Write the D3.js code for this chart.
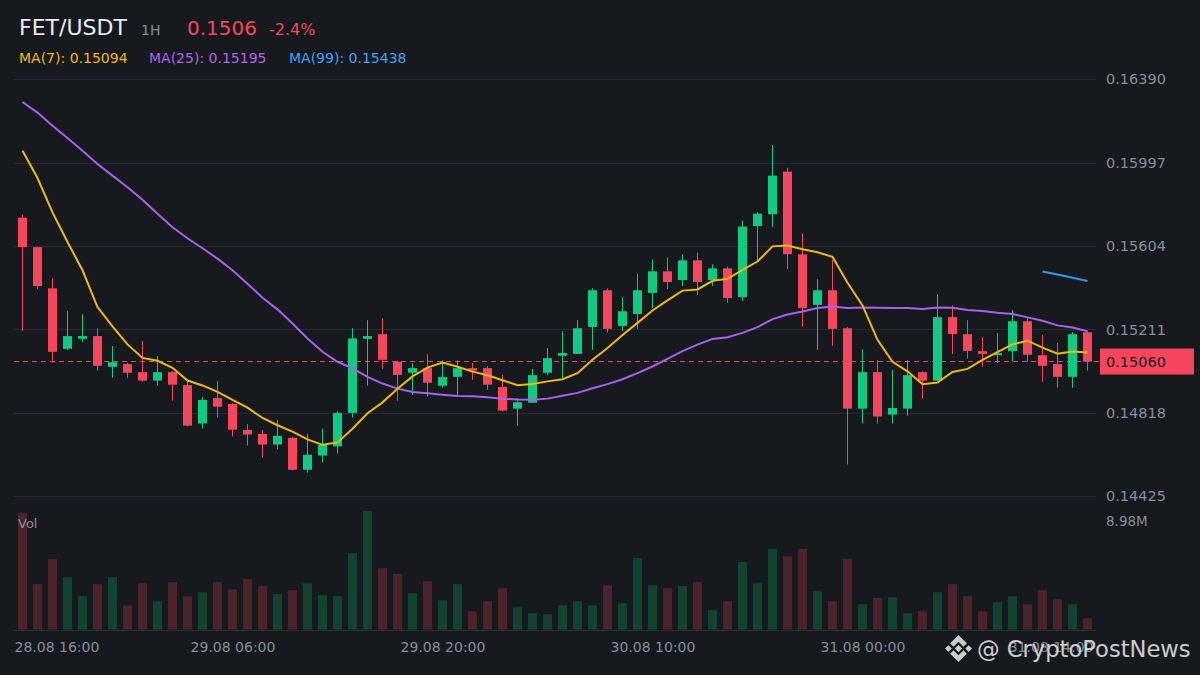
<!DOCTYPE html>
<html>
<head>
<meta charset="utf-8">
<script src="https://cdn.jsdelivr.net/npm/d3@7"></script>
<style>
  html, body { margin: 0; padding: 0; background: #161a1e; }
  svg { display: block; font-family: "DejaVu Sans", sans-serif; }
</style>
</head>
<body>
<div id="chart"></div>
<script>
// ---- data (FET/USDT, 1H candles, 28.08 16:00 -> 31.08 15:00) ----
var opens = [0.15738,0.15599,0.15405,0.15120,0.15167,0.15180,0.15035,0.15048,0.15010,0.14970,
  0.15010,0.14949,0.14768,0.14888,0.14860,0.14738,0.14719,0.14669,0.14700,0.14550,
  0.14617,0.14660,0.14818,0.15167,0.15189,0.15059,0.15007,0.15029,0.14946,0.14988,
  0.15029,0.15029,0.14940,0.14838,0.14866,0.15007,0.15087,0.15096,0.15223,0.15396,
  0.15228,0.15284,0.15383,0.15485,0.15444,0.15537,0.15444,0.15499,0.15364,0.15698,
  0.15754,0.15955,0.15565,0.15327,0.15396,0.15217,0.14838,0.15010,0.14810,0.14838,
  0.15010,0.14970,0.15269,0.15189,0.15109,0.15090,0.15109,0.15250,0.15090,0.15048,
  0.14988,0.15198];
var highs = [0.15753,0.15602,0.15452,0.15297,0.15283,0.15217,0.15133,0.15054,0.15156,0.15086,
  0.15015,0.14978,0.14893,0.14968,0.14865,0.14766,0.14738,0.14785,0.14705,0.14719,
  0.14743,0.14827,0.15217,0.15255,0.15264,0.15065,0.15051,0.15095,0.15065,0.15065,
  0.15053,0.15039,0.14996,0.14887,0.15025,0.15123,0.15203,0.15255,0.15405,0.15405,
  0.15363,0.15475,0.15541,0.15551,0.15565,0.15574,0.15518,0.15508,0.15724,0.15763,
  0.16081,0.15973,0.15663,0.15447,0.15540,0.15222,0.15118,0.15067,0.15020,0.15067,
  0.15015,0.15377,0.15325,0.15255,0.15175,0.15194,0.15302,0.15269,0.15184,0.15147,
  0.15198,0.15203];
var lows = [0.15204,0.15402,0.15054,0.15115,0.15153,0.15017,0.14984,0.14984,0.14965,0.14946,
  0.14876,0.14755,0.14744,0.14796,0.14707,0.14664,0.14608,0.14646,0.14547,0.14537,
  0.14584,0.14627,0.14796,0.14946,0.15026,0.14876,0.14904,0.14894,0.14937,0.14898,
  0.14974,0.14927,0.14824,0.14758,0.14865,0.14996,0.14981,0.15096,0.15115,0.15195,
  0.15204,0.15214,0.15312,0.15402,0.15416,0.15374,0.15416,0.15336,0.15345,0.15537,
  0.15693,0.15496,0.15223,0.15115,0.15134,0.14575,0.14768,0.14768,0.14768,0.14805,
  0.14885,0.14970,0.15096,0.15073,0.15035,0.15054,0.15062,0.15059,0.14965,0.14937,
  0.14937,0.15017];
var closes = [0.15599,0.15416,0.15106,0.15180,0.15180,0.15040,0.15057,0.15007,0.14970,0.15010,
  0.14951,0.14758,0.14879,0.14847,0.14739,0.14716,0.14669,0.14710,0.14550,0.14621,
  0.14668,0.14818,0.15169,0.15180,0.15068,0.14997,0.15029,0.14960,0.14987,0.15029,
  0.15017,0.14951,0.14829,0.14868,0.14996,0.15076,0.15100,0.15217,0.15396,0.15214,
  0.15297,0.15396,0.15485,0.15435,0.15537,0.15435,0.15499,0.15359,0.15696,0.15757,
  0.15936,0.15566,0.15312,0.15396,0.15214,0.14838,0.15010,0.14801,0.14841,0.14996,
  0.14970,0.15269,0.15190,0.15110,0.15096,0.15100,0.15250,0.15092,0.15040,0.14988,
  0.15189,0.15060];
// volume in millions
var volumes = [8.85,3.44,5.34,3.97,2.53,3.44,3.97,1.84,3.51,2.15,
  3.59,2.53,2.83,3.59,3.06,3.82,3.29,2.68,2.98,3.51,
  2.60,2.53,5.79,8.98,4.65,4.20,2.76,3.67,2.22,3.44,
  1.39,2.15,3.14,1.69,1.24,1.16,1.84,2.15,1.84,3.36,
  2.00,5.41,3.36,3.14,3.29,3.59,1.47,2.15,5.11,3.51,
  6.10,5.56,6.10,2.91,2.15,5.34,1.92,2.38,2.45,1.24,
  1.39,2.83,3.44,2.53,1.39,2.07,2.53,1.92,2.98,2.30,
  1.92,0.86];

// moving average points whose source candles lie before the visible window
var ma7Head = [0.16053,0.15925,0.15763,0.15623,0.15490,0.15317];
var ma25Head = [0.16283,0.16233,0.16171,0.16113,0.16053,0.15991,0.15936,0.15881,0.15822,0.15756,
  0.15693,0.15641,0.15594,0.15545,0.15490,0.15427,0.15361,0.15306,0.15239,0.15169,
  0.15106,0.15059,0.15028,0.14988];
var ma99Tail = [0.15484,0.15470,0.15455,0.15440]; // candles 68..71

var priceTicks = [0.14425,0.14818,0.15211,0.15604,0.15997,0.16390];
var timeTickIdx = [0,14,28,42,56,70];
var timeLabels = ["28.08 16:00","29.08 06:00","29.08 20:00","30.08 10:00","31.08 00:00","31.08 14:00"];
var lastPrice = 0.15060;
var volMax = 8.98;

// ---- setup ----
var width = 1200, height = 675;
var gridLeft = 14, gridRight = 1096;
var upColor = "#0ecb81", downColor = "#f6465d";
var upVol = "#11432f", downVol = "#4b2329";
var textGray = "#848e9c";

var svg = d3.select("#chart").append("svg")
  .attr("width", width)
  .attr("height", height);

svg.append("rect").attr("width", width).attr("height", height).attr("fill", "#161a1e");

var x = d3.scaleLinear().domain([0, closes.length - 1]).range([22.5, 1087.5]);
var y = d3.scaleLinear().domain([priceTicks[0], priceTicks[priceTicks.length - 1]]).range([496.3, 79.3]);
var yVol = d3.scaleLinear().domain([0, volMax]).range([629.5, 511]);

var candles = closes.map(function(c, i) {
  return { i: i, o: opens[i], h: highs[i], l: lows[i], c: c, v: volumes[i], up: c >= opens[i] };
});

// ---- moving averages ----
function movingAvg(n, head) {
  return closes.map(function(c, i) {
    if (i < n - 1) return head[i];
    return d3.mean(closes.slice(i - n + 1, i + 1));
  });
}
var ma7 = movingAvg(7, ma7Head);
var ma25 = movingAvg(25, ma25Head);
var ma99 = closes.map(function(c, i) {
  var k = i - (closes.length - ma99Tail.length);
  return k >= 0 ? ma99Tail[k] : null;
});

// ---- grid ----
svg.append("g").selectAll("line")
  .data(priceTicks)
  .enter()
  .append("line")
  .attr("x1", gridLeft)
  .attr("x2", gridRight)
  .attr("y1", function(d) { return Math.round(y(d)) + 0.5; })
  .attr("y2", function(d) { return Math.round(y(d)) + 0.5; })
  .attr("stroke", "#262a30")
  .attr("stroke-width", 1);

svg.append("line")
  .attr("x1", gridLeft).attr("x2", gridRight)
  .attr("y1", 630.5).attr("y2", 630.5)
  .attr("stroke", "#2b2f36");

// ---- price axis ----
var priceAxis = svg.append("g")
  .attr("transform", "translate(1106,0)")
  .call(d3.axisRight(y).tickValues(priceTicks).tickSize(0).tickPadding(0).tickFormat(d3.format(".5f")));
priceAxis.attr("font-family", "DejaVu Sans").attr("font-size", 14.5);
priceAxis.select(".domain").remove();
priceAxis.selectAll("text").attr("fill", textGray);

// ---- volume bars ----
svg.append("g").selectAll("rect")
  .data(candles)
  .enter()
  .append("rect")
  .attr("x", function(d) { return x(d.i) - 4.5; })
  .attr("width", 9)
  .attr("y", function(d) { return yVol(d.v); })
  .attr("height", function(d) { return yVol(0) - yVol(d.v); })
  .attr("fill", function(d) { return d.up ? upVol : downVol; });

svg.append("text")
  .attr("x", 18).attr("y", 528)
  .attr("font-size", 13).attr("fill", textGray)
  .text("Vol");

svg.append("text")
  .attr("x", 1106).attr("y", 526)
  .attr("font-size", 13.5).attr("fill", textGray)
  .text(d3.format(".2f")(volMax) + "M");

// ---- last price line ----
svg.append("line")
  .attr("x1", gridLeft).attr("x2", 1100)
  .attr("y1", y(lastPrice)).attr("y2", y(lastPrice))
  .attr("stroke", downColor)
  .attr("stroke-width", 1)
  .attr("stroke-dasharray", "5,4");

// ---- candles ----
var candleG = svg.append("g");
candleG.selectAll("line")
  .data(candles)
  .enter()
  .append("line")
  .attr("x1", function(d) { return x(d.i); })
  .attr("x2", function(d) { return x(d.i); })
  .attr("y1", function(d) { return y(d.h); })
  .attr("y2", function(d) { return y(d.l); })
  .attr("stroke", function(d) { return d.up ? upColor : downColor; })
  .attr("stroke-width", 1);

candleG.selectAll("rect")
  .data(candles)
  .enter()
  .append("rect")
  .attr("x", function(d) { return x(d.i) - 4.5; })
  .attr("width", 9)
  .attr("y", function(d) { return y(Math.max(d.o, d.c)); })
  .attr("height", function(d) { return Math.max(1, Math.abs(y(d.o) - y(d.c))); })
  .attr("fill", function(d) { return d.up ? upColor : downColor; });

// ---- MA lines ----
var maLine = d3.line()
  .defined(function(d) { return d != null; })
  .x(function(d, i) { return x(i); })
  .y(function(d) { return y(d); });

svg.append("path").datum(ma25)
  .attr("d", maLine).attr("fill", "none")
  .attr("stroke", "#a960ee").attr("stroke-width", 2);
svg.append("path").datum(ma7)
  .attr("d", maLine).attr("fill", "none")
  .attr("stroke", "#f0b90b").attr("stroke-width", 2);
svg.append("path").datum(ma99)
  .attr("d", maLine).attr("fill", "none")
  .attr("stroke", "#3d94ef").attr("stroke-width", 2);

// ---- last price tag ----
svg.append("rect")
  .attr("x", 1100).attr("y", y(lastPrice) - 13)
  .attr("width", 94).attr("height", 26)
  .attr("fill", downColor);
svg.append("text")
  .attr("x", 1106).attr("y", y(lastPrice))
  .attr("dy", "0.35em")
  .attr("font-size", 14.5)
  .attr("fill", "#1b1d22")
  .text(d3.format(".5f")(lastPrice));

// ---- time axis ----
var timeAxis = svg.append("g")
  .attr("transform", "translate(0,652)")
  .call(d3.axisBottom(x).tickValues(timeTickIdx).tickSize(0).tickPadding(0)
    .tickFormat(function(d, i) { return timeLabels[i]; }));
timeAxis.attr("font-family", "DejaVu Sans").attr("font-size", 14);
timeAxis.select(".domain").remove();
timeAxis.selectAll("text")
  .attr("fill", textGray)
  .attr("y", 0)
  .attr("dy", 0)
  .each(function(d) {
    var t = d3.select(this);
    var w = this.getComputedTextLength();
    var cx = x(d);
    if (cx - w / 2 < gridLeft) {
      t.attr("text-anchor", "start").attr("x", gridLeft - cx);
    } else if (cx + w / 2 > gridRight - 2) {
      t.attr("text-anchor", "end").attr("x", gridRight - 3 - cx);
    }
  });

// ---- header ----
var header = svg.append("g");
header.append("text").attr("x", 19).attr("y", 35)
  .attr("font-size", 22).attr("fill", "#eaecef").text("FET/USDT");
header.append("text").attr("x", 141).attr("y", 35)
  .attr("font-size", 14).attr("fill", textGray).text("1H");
header.append("text").attr("x", 187).attr("y", 35)
  .attr("font-size", 20).attr("fill", downColor).text("0.1506");
header.append("text").attr("x", 269).attr("y", 35)
  .attr("font-size", 16).attr("fill", downColor).text("-2.4%");

var maLegend = [
  { label: "MA(7): 0.15094", color: "#f0b90b", x: 19 },
  { label: "MA(25): 0.15195", color: "#b064ec", x: 149 },
  { label: "MA(99): 0.15438", color: "#4a9ff2", x: 289 }
];
header.selectAll(".ma")
  .data(maLegend)
  .enter()
  .append("text")
  .attr("class", "ma")
  .attr("x", function(d) { return d.x; })
  .attr("y", 63)
  .attr("font-size", 14)
  .attr("fill", function(d) { return d.color; })
  .text(function(d) { return d.label; });

// ---- watermark (sits over the last time label, as in the source) ----
var wm = svg.append("g").attr("opacity", 0.88);
var logo = wm.append("g").attr("transform", "translate(958.5,648.5) scale(13.5)");
var logoShapes = [
  [[0,-0.27],[0.27,0],[0,0.27],[-0.27,0]],
  [[-1,0],[-0.75,-0.25],[-0.5,0],[-0.75,0.25]],
  [[1,0],[0.75,-0.25],[0.5,0],[0.75,0.25]],
  [[0,-1],[0.62,-0.38],[0.37,-0.13],[0,-0.5],[-0.37,-0.13],[-0.62,-0.38]],
  [[0,1],[0.62,0.38],[0.37,0.13],[0,0.5],[-0.37,0.13],[-0.62,0.38]]
];
logo.selectAll("path")
  .data(logoShapes)
  .enter()
  .append("path")
  .attr("d", function(d) { return "M" + d.join("L") + "Z"; })
  .attr("fill", "#e4e4e4");

wm.append("text")
  .attr("x", 977).attr("y", 657)
  .attr("font-size", 22.6)
  .attr("fill", "#e4e4e4")
  .text("@ CryptoPostNews");
</script>
</body>
</html>
